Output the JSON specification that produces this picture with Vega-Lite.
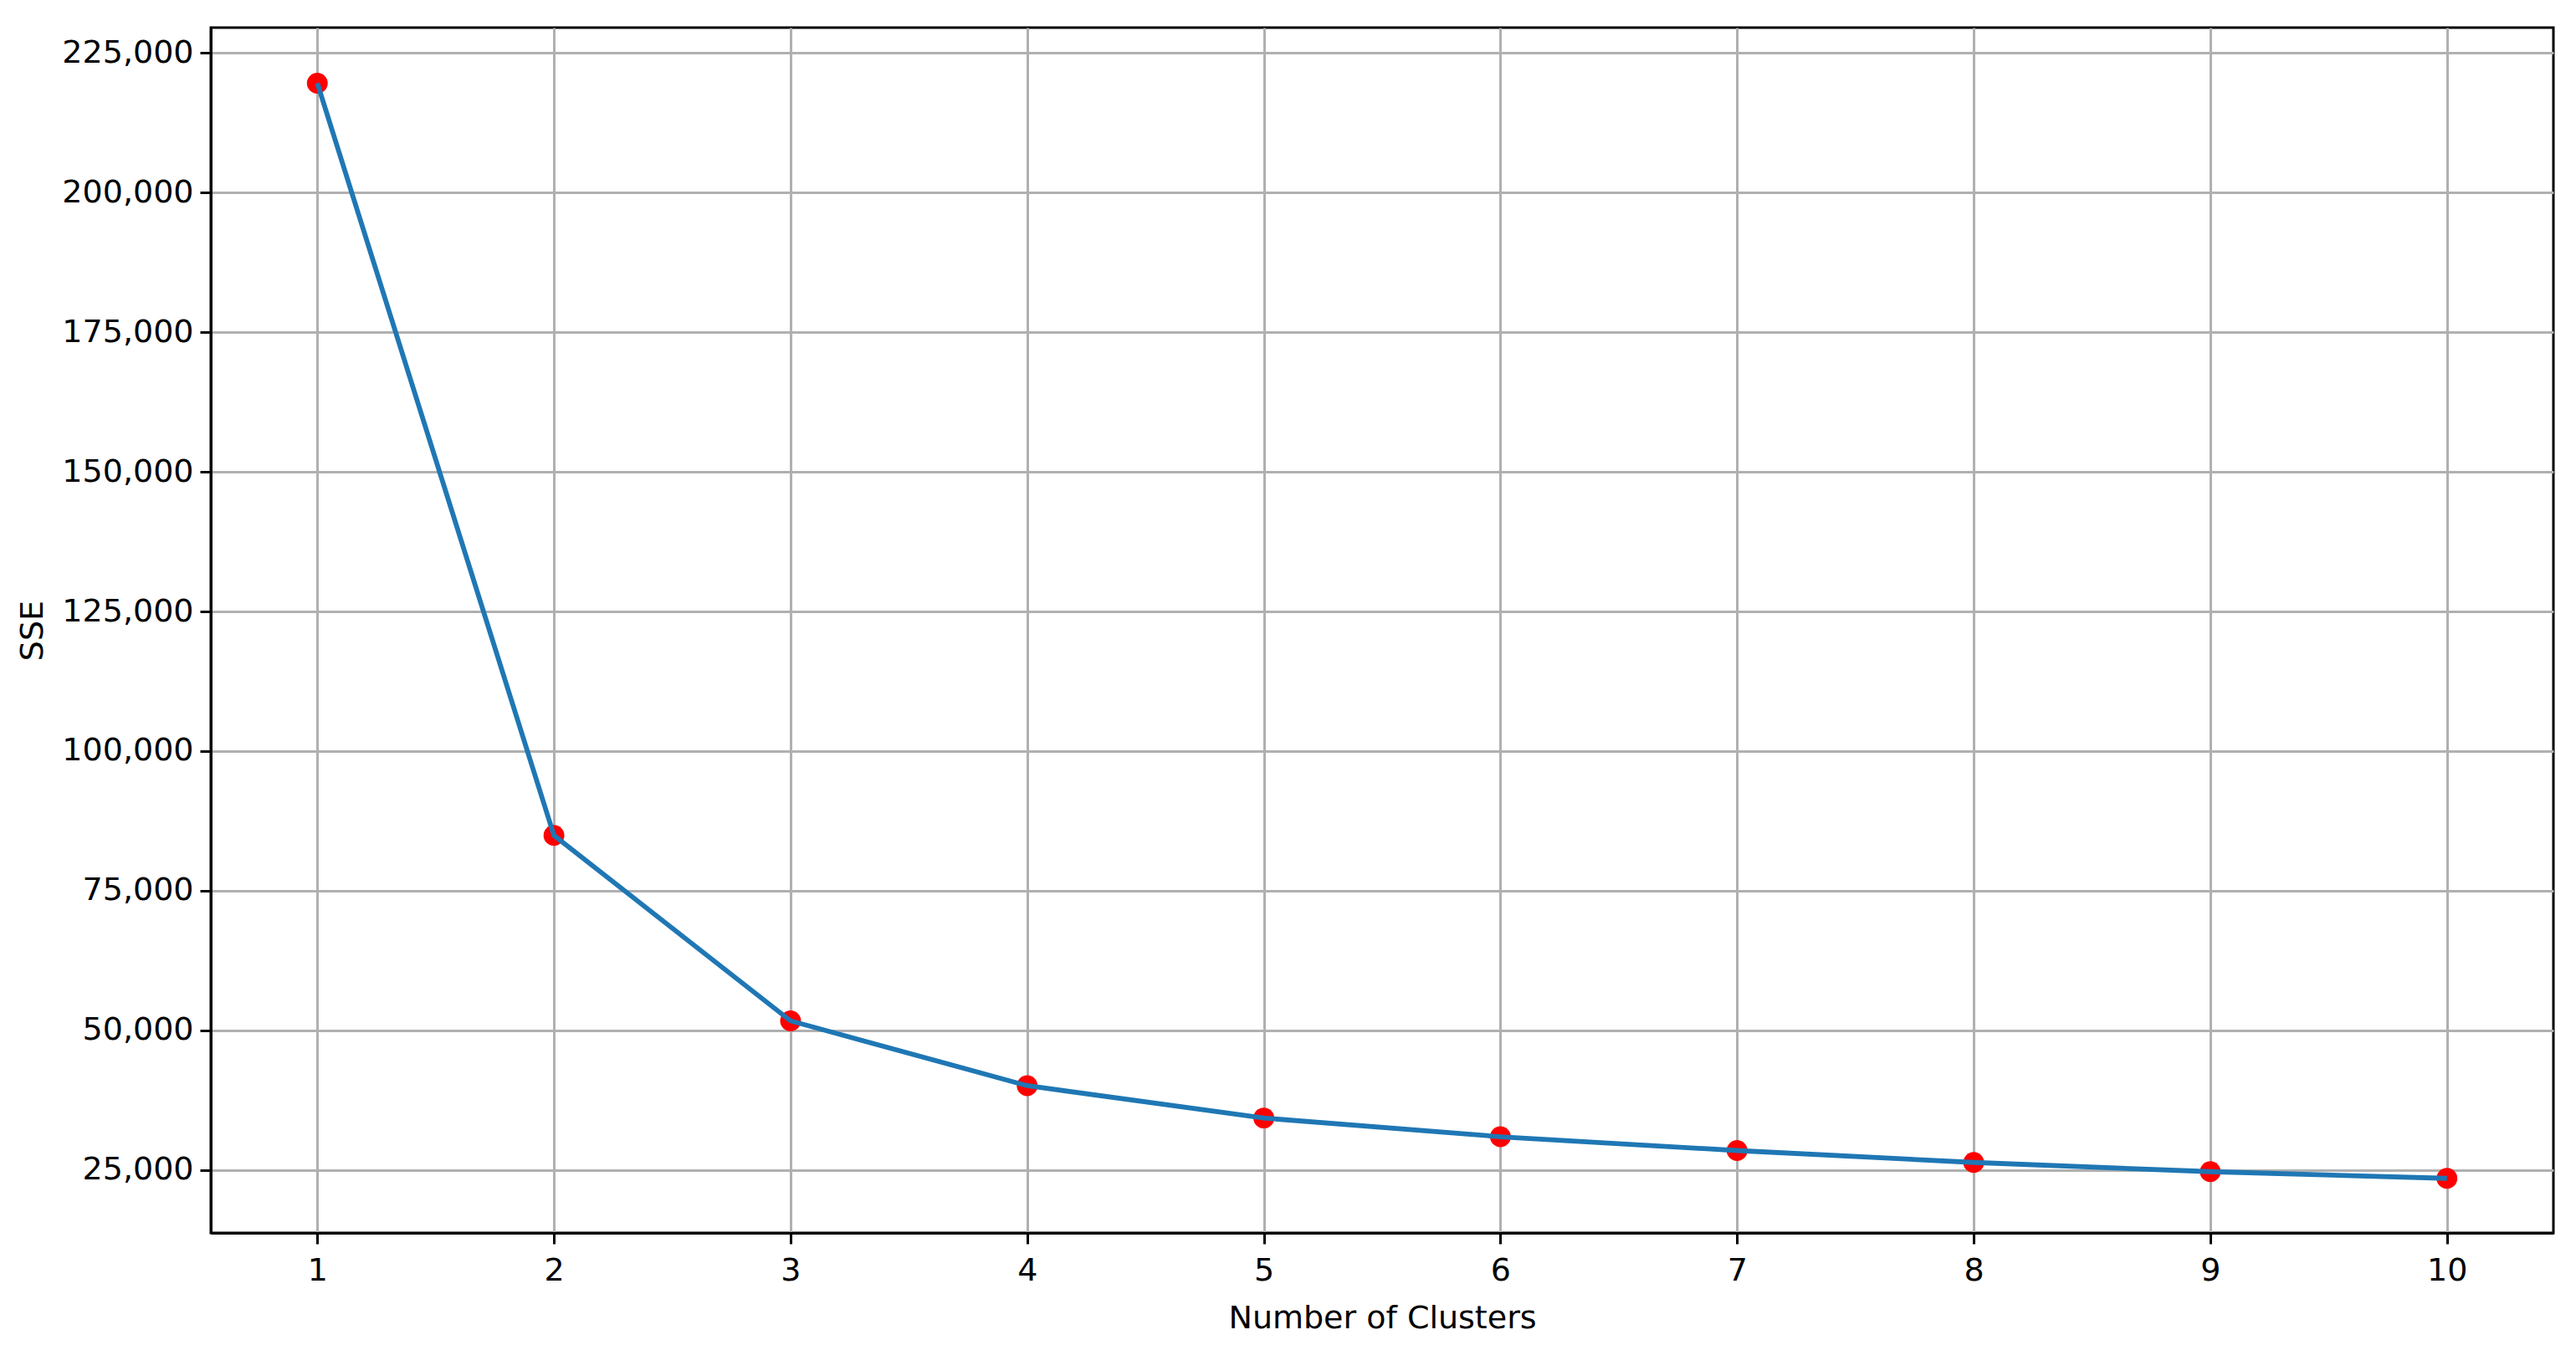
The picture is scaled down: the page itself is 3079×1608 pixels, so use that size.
{
  "$schema": "https://vega.github.io/schema/vega-lite/v6.json",
  "autosize": "none",
  "width": 2800,
  "height": 1441,
  "padding": {"left": 252, "top": 33, "right": 27, "bottom": 134},
  "background": "white",
  "config": {
    "view": {"stroke": "black", "strokeWidth": 3},
    "font": "DejaVu Sans",
    "axis": {
      "labelFont": "DejaVu Sans",
      "titleFont": "DejaVu Sans",
      "labelFontSize": 38,
      "titleFontSize": 38,
      "labelColor": "black",
      "titleColor": "black",
      "titleFontWeight": "normal",
      "domainColor": "black",
      "domainWidth": 3,
      "tickColor": "black",
      "tickWidth": 3,
      "tickSize": 13,
      "grid": true,
      "gridColor": "#b0b0b0",
      "gridWidth": 3
    }
  },
  "data": {
    "values": [
      {"k": 1, "sse": 219600},
      {"k": 2, "sse": 84900},
      {"k": 3, "sse": 51700},
      {"k": 4, "sse": 40100},
      {"k": 5, "sse": 34300},
      {"k": 6, "sse": 30950},
      {"k": 7, "sse": 28480},
      {"k": 8, "sse": 26350},
      {"k": 9, "sse": 24700},
      {"k": 10, "sse": 23500}
    ]
  },
  "encoding": {
    "x": {
      "field": "k",
      "type": "quantitative",
      "scale": {"domain": [0.55, 10.45], "nice": false, "zero": false},
      "axis": {
        "title": "Number of Clusters",
        "values": [1, 2, 3, 4, 5, 6, 7, 8, 9, 10],
        "format": "d",
        "labelPadding": 13,
        "titleY": 113,
        "titleBaseline": "alphabetic"
      }
    },
    "y": {
      "field": "sse",
      "type": "quantitative",
      "scale": {"domain": [13730, 229550], "nice": false, "zero": false},
      "axis": {
        "title": "SSE",
        "values": [25000, 50000, 75000, 100000, 125000, 150000, 175000, 200000, 225000],
        "format": ",d",
        "labelPadding": 8,
        "titleAngle": -90,
        "titleX": -202,
        "titleBaseline": "alphabetic"
      }
    }
  },
  "layer": [
    {"mark": {"type": "point", "shape": "circle", "filled": true, "color": "#ff0000", "opacity": 1, "size": 620}},
    {"mark": {"type": "line", "color": "#1f77b4", "strokeWidth": 5.8}}
  ]
}
